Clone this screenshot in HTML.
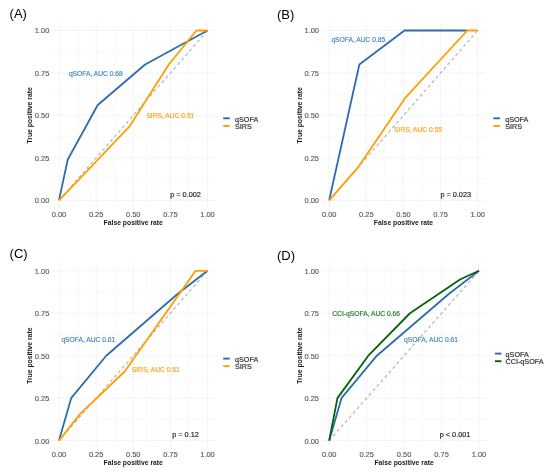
<!DOCTYPE html>
<html><head><meta charset="utf-8"><style>
html,body{margin:0;padding:0;background:#fff;}
body{width:550px;height:476px;overflow:hidden;}
svg{display:block;font-family:"Liberation Sans", sans-serif;will-change:transform;filter:blur(0.3px);}
</style></head><body>
<svg width="550" height="476" viewBox="0 0 550 476">
<rect width="550" height="476" fill="#fff"/>
<g transform="translate(0,0)">
<text x="9.6" y="18.1" font-size="13" fill="#000">(A)</text>
<line x1="59.00" y1="22.00" x2="59.00" y2="208.80" stroke="#f3f3f3" stroke-width="0.9"/>
<line x1="51.40" y1="200.30" x2="215.80" y2="200.30" stroke="#f3f3f3" stroke-width="0.9"/>
<line x1="77.56" y1="22.00" x2="77.56" y2="208.80" stroke="#f6f6f6" stroke-width="0.7"/>
<line x1="51.40" y1="179.08" x2="215.80" y2="179.08" stroke="#f6f6f6" stroke-width="0.7"/>
<line x1="96.12" y1="22.00" x2="96.12" y2="208.80" stroke="#f3f3f3" stroke-width="0.9"/>
<line x1="51.40" y1="157.85" x2="215.80" y2="157.85" stroke="#f3f3f3" stroke-width="0.9"/>
<line x1="114.69" y1="22.00" x2="114.69" y2="208.80" stroke="#f6f6f6" stroke-width="0.7"/>
<line x1="51.40" y1="136.62" x2="215.80" y2="136.62" stroke="#f6f6f6" stroke-width="0.7"/>
<line x1="133.25" y1="22.00" x2="133.25" y2="208.80" stroke="#f3f3f3" stroke-width="0.9"/>
<line x1="51.40" y1="115.40" x2="215.80" y2="115.40" stroke="#f3f3f3" stroke-width="0.9"/>
<line x1="151.81" y1="22.00" x2="151.81" y2="208.80" stroke="#f6f6f6" stroke-width="0.7"/>
<line x1="51.40" y1="94.18" x2="215.80" y2="94.18" stroke="#f6f6f6" stroke-width="0.7"/>
<line x1="170.38" y1="22.00" x2="170.38" y2="208.80" stroke="#f3f3f3" stroke-width="0.9"/>
<line x1="51.40" y1="72.95" x2="215.80" y2="72.95" stroke="#f3f3f3" stroke-width="0.9"/>
<line x1="188.94" y1="22.00" x2="188.94" y2="208.80" stroke="#f6f6f6" stroke-width="0.7"/>
<line x1="51.40" y1="51.72" x2="215.80" y2="51.72" stroke="#f6f6f6" stroke-width="0.7"/>
<line x1="207.50" y1="22.00" x2="207.50" y2="208.80" stroke="#f3f3f3" stroke-width="0.9"/>
<line x1="51.40" y1="30.50" x2="215.80" y2="30.50" stroke="#f3f3f3" stroke-width="0.9"/>
<line x1="59.00" y1="200.30" x2="207.50" y2="30.50" stroke="#b0b0b0" stroke-width="1.1" stroke-dasharray="3.2 2.8"/>
<polyline points="59.00,200.30 67.76,159.55 97.76,105.04 145.13,64.46 207.50,30.50" fill="none" stroke="#2f6cae" stroke-width="1.8" stroke-linejoin="round"/>
<polyline points="59.00,200.30 129.83,126.10 168.74,64.46 196.51,30.50 207.50,30.50" fill="none" stroke="#ff9e00" stroke-width="1.8" stroke-linejoin="round"/>
<text x="49.30" y="203.25" font-size="7.45" fill="#555" stroke="#555" stroke-width="0.12" text-anchor="end">0.00</text>
<text x="59.00" y="217.2" font-size="7.45" fill="#555" stroke="#555" stroke-width="0.12" text-anchor="middle">0.00</text>
<text x="49.30" y="160.80" font-size="7.45" fill="#555" stroke="#555" stroke-width="0.12" text-anchor="end">0.25</text>
<text x="96.12" y="217.2" font-size="7.45" fill="#555" stroke="#555" stroke-width="0.12" text-anchor="middle">0.25</text>
<text x="49.30" y="118.35" font-size="7.45" fill="#555" stroke="#555" stroke-width="0.12" text-anchor="end">0.50</text>
<text x="133.25" y="217.2" font-size="7.45" fill="#555" stroke="#555" stroke-width="0.12" text-anchor="middle">0.50</text>
<text x="49.30" y="75.90" font-size="7.45" fill="#555" stroke="#555" stroke-width="0.12" text-anchor="end">0.75</text>
<text x="170.38" y="217.2" font-size="7.45" fill="#555" stroke="#555" stroke-width="0.12" text-anchor="middle">0.75</text>
<text x="49.30" y="33.45" font-size="7.45" fill="#555" stroke="#555" stroke-width="0.12" text-anchor="end">1.00</text>
<text x="207.50" y="217.2" font-size="7.45" fill="#555" stroke="#555" stroke-width="0.12" text-anchor="middle">1.00</text>
<text x="133.25" y="224.8" font-size="6.8" font-weight="bold" fill="#1a1a1a" text-anchor="middle">False positive rate</text>
<text transform="translate(31.9,115.40) rotate(-90)" font-size="6.8" font-weight="bold" fill="#1a1a1a" text-anchor="middle">True positive rate</text>
<text x="68.9" y="75.9" font-size="6.7" fill="#4a86c6" stroke="#4a86c6" stroke-width="0.18">qSOFA, AUC 0.68</text>
<text x="146.4" y="118.1" font-size="6.7" fill="#ffa31a" stroke="#ffa31a" stroke-width="0.18">SIRS, AUC 0.51</text>
<line x1="223.2" y1="118.30" x2="229.7" y2="118.30" stroke="#2f6cae" stroke-width="1.9"/>
<text x="235.00" y="121.50" font-size="7.2" fill="#333" stroke="#333" stroke-width="0.2">qSOFA</text>
<line x1="223.2" y1="125.90" x2="229.7" y2="125.90" stroke="#ff9e00" stroke-width="1.9"/>
<text x="235.00" y="129.10" font-size="7.2" fill="#333" stroke="#333" stroke-width="0.2">SIRS</text>
<text x="185.53" y="196.6" font-size="7.3" fill="#1a1a1a" stroke="#1a1a1a" stroke-width="0.15" text-anchor="middle">p = 0.002</text>
</g>
<g transform="translate(270.2,0)">
<text x="6.8" y="19.2" font-size="13" fill="#000">(B)</text>
<line x1="59.00" y1="22.00" x2="59.00" y2="208.80" stroke="#f3f3f3" stroke-width="0.9"/>
<line x1="51.40" y1="200.30" x2="215.80" y2="200.30" stroke="#f3f3f3" stroke-width="0.9"/>
<line x1="77.56" y1="22.00" x2="77.56" y2="208.80" stroke="#f6f6f6" stroke-width="0.7"/>
<line x1="51.40" y1="179.08" x2="215.80" y2="179.08" stroke="#f6f6f6" stroke-width="0.7"/>
<line x1="96.12" y1="22.00" x2="96.12" y2="208.80" stroke="#f3f3f3" stroke-width="0.9"/>
<line x1="51.40" y1="157.85" x2="215.80" y2="157.85" stroke="#f3f3f3" stroke-width="0.9"/>
<line x1="114.69" y1="22.00" x2="114.69" y2="208.80" stroke="#f6f6f6" stroke-width="0.7"/>
<line x1="51.40" y1="136.62" x2="215.80" y2="136.62" stroke="#f6f6f6" stroke-width="0.7"/>
<line x1="133.25" y1="22.00" x2="133.25" y2="208.80" stroke="#f3f3f3" stroke-width="0.9"/>
<line x1="51.40" y1="115.40" x2="215.80" y2="115.40" stroke="#f3f3f3" stroke-width="0.9"/>
<line x1="151.81" y1="22.00" x2="151.81" y2="208.80" stroke="#f6f6f6" stroke-width="0.7"/>
<line x1="51.40" y1="94.18" x2="215.80" y2="94.18" stroke="#f6f6f6" stroke-width="0.7"/>
<line x1="170.38" y1="22.00" x2="170.38" y2="208.80" stroke="#f3f3f3" stroke-width="0.9"/>
<line x1="51.40" y1="72.95" x2="215.80" y2="72.95" stroke="#f3f3f3" stroke-width="0.9"/>
<line x1="188.94" y1="22.00" x2="188.94" y2="208.80" stroke="#f6f6f6" stroke-width="0.7"/>
<line x1="51.40" y1="51.72" x2="215.80" y2="51.72" stroke="#f6f6f6" stroke-width="0.7"/>
<line x1="207.50" y1="22.00" x2="207.50" y2="208.80" stroke="#f3f3f3" stroke-width="0.9"/>
<line x1="51.40" y1="30.50" x2="215.80" y2="30.50" stroke="#f3f3f3" stroke-width="0.9"/>
<line x1="59.00" y1="200.30" x2="207.50" y2="30.50" stroke="#b0b0b0" stroke-width="1.1" stroke-dasharray="3.2 2.8"/>
<polyline points="59.00,200.30 89.15,64.46 134.29,30.50 197.11,30.50" fill="none" stroke="#2f6cae" stroke-width="1.8" stroke-linejoin="round"/>
<polyline points="59.00,200.30 88.70,166.34 134.59,98.42 197.11,30.50 207.50,30.50" fill="none" stroke="#ff9e00" stroke-width="1.8" stroke-linejoin="round"/>
<text x="48.80" y="203.25" font-size="7.45" fill="#555" stroke="#555" stroke-width="0.12" text-anchor="end">0.00</text>
<text x="59.00" y="217.2" font-size="7.45" fill="#555" stroke="#555" stroke-width="0.12" text-anchor="middle">0.00</text>
<text x="48.80" y="160.80" font-size="7.45" fill="#555" stroke="#555" stroke-width="0.12" text-anchor="end">0.25</text>
<text x="96.12" y="217.2" font-size="7.45" fill="#555" stroke="#555" stroke-width="0.12" text-anchor="middle">0.25</text>
<text x="48.80" y="118.35" font-size="7.45" fill="#555" stroke="#555" stroke-width="0.12" text-anchor="end">0.50</text>
<text x="133.25" y="217.2" font-size="7.45" fill="#555" stroke="#555" stroke-width="0.12" text-anchor="middle">0.50</text>
<text x="48.80" y="75.90" font-size="7.45" fill="#555" stroke="#555" stroke-width="0.12" text-anchor="end">0.75</text>
<text x="170.38" y="217.2" font-size="7.45" fill="#555" stroke="#555" stroke-width="0.12" text-anchor="middle">0.75</text>
<text x="48.80" y="33.45" font-size="7.45" fill="#555" stroke="#555" stroke-width="0.12" text-anchor="end">1.00</text>
<text x="207.50" y="217.2" font-size="7.45" fill="#555" stroke="#555" stroke-width="0.12" text-anchor="middle">1.00</text>
<text x="133.25" y="224.8" font-size="6.8" font-weight="bold" fill="#1a1a1a" text-anchor="middle">False positive rate</text>
<text transform="translate(31.9,115.40) rotate(-90)" font-size="6.8" font-weight="bold" fill="#1a1a1a" text-anchor="middle">True positive rate</text>
<text x="61.2" y="42.3" font-size="6.7" fill="#4a86c6" stroke="#4a86c6" stroke-width="0.18">qSOFA, AUC 0.85</text>
<text x="123.9" y="131.8" font-size="6.7" fill="#ffa31a" stroke="#ffa31a" stroke-width="0.18">SIRS, AUC 0.55</text>
<line x1="223.2" y1="118.30" x2="229.7" y2="118.30" stroke="#2f6cae" stroke-width="1.9"/>
<text x="235.00" y="121.50" font-size="7.2" fill="#333" stroke="#333" stroke-width="0.2">qSOFA</text>
<line x1="223.2" y1="125.90" x2="229.7" y2="125.90" stroke="#ff9e00" stroke-width="1.9"/>
<text x="235.00" y="129.10" font-size="7.2" fill="#333" stroke="#333" stroke-width="0.2">SIRS</text>
<text x="185.53" y="196.6" font-size="7.3" fill="#1a1a1a" stroke="#1a1a1a" stroke-width="0.15" text-anchor="middle">p = 0.023</text>
</g>
<g transform="translate(0,240.3)">
<text x="9.6" y="17.9" font-size="13" fill="#000">(C)</text>
<line x1="59.00" y1="22.00" x2="59.00" y2="208.80" stroke="#f3f3f3" stroke-width="0.9"/>
<line x1="51.40" y1="200.30" x2="215.80" y2="200.30" stroke="#f3f3f3" stroke-width="0.9"/>
<line x1="77.56" y1="22.00" x2="77.56" y2="208.80" stroke="#f6f6f6" stroke-width="0.7"/>
<line x1="51.40" y1="179.08" x2="215.80" y2="179.08" stroke="#f6f6f6" stroke-width="0.7"/>
<line x1="96.12" y1="22.00" x2="96.12" y2="208.80" stroke="#f3f3f3" stroke-width="0.9"/>
<line x1="51.40" y1="157.85" x2="215.80" y2="157.85" stroke="#f3f3f3" stroke-width="0.9"/>
<line x1="114.69" y1="22.00" x2="114.69" y2="208.80" stroke="#f6f6f6" stroke-width="0.7"/>
<line x1="51.40" y1="136.62" x2="215.80" y2="136.62" stroke="#f6f6f6" stroke-width="0.7"/>
<line x1="133.25" y1="22.00" x2="133.25" y2="208.80" stroke="#f3f3f3" stroke-width="0.9"/>
<line x1="51.40" y1="115.40" x2="215.80" y2="115.40" stroke="#f3f3f3" stroke-width="0.9"/>
<line x1="151.81" y1="22.00" x2="151.81" y2="208.80" stroke="#f6f6f6" stroke-width="0.7"/>
<line x1="51.40" y1="94.18" x2="215.80" y2="94.18" stroke="#f6f6f6" stroke-width="0.7"/>
<line x1="170.38" y1="22.00" x2="170.38" y2="208.80" stroke="#f3f3f3" stroke-width="0.9"/>
<line x1="51.40" y1="72.95" x2="215.80" y2="72.95" stroke="#f3f3f3" stroke-width="0.9"/>
<line x1="188.94" y1="22.00" x2="188.94" y2="208.80" stroke="#f6f6f6" stroke-width="0.7"/>
<line x1="51.40" y1="51.72" x2="215.80" y2="51.72" stroke="#f6f6f6" stroke-width="0.7"/>
<line x1="207.50" y1="22.00" x2="207.50" y2="208.80" stroke="#f3f3f3" stroke-width="0.9"/>
<line x1="51.40" y1="30.50" x2="215.80" y2="30.50" stroke="#f3f3f3" stroke-width="0.9"/>
<line x1="59.00" y1="200.30" x2="207.50" y2="30.50" stroke="#b0b0b0" stroke-width="1.1" stroke-dasharray="3.2 2.8"/>
<polyline points="59.00,200.30 71.18,157.85 106.22,115.40 177.80,53.42 207.50,30.50" fill="none" stroke="#2f6cae" stroke-width="1.8" stroke-linejoin="round"/>
<polyline points="59.00,200.30 79.94,173.81 124.64,131.19 195.62,30.50 207.50,30.50" fill="none" stroke="#ff9e00" stroke-width="1.8" stroke-linejoin="round"/>
<text x="49.30" y="203.25" font-size="7.45" fill="#555" stroke="#555" stroke-width="0.12" text-anchor="end">0.00</text>
<text x="59.00" y="217.2" font-size="7.45" fill="#555" stroke="#555" stroke-width="0.12" text-anchor="middle">0.00</text>
<text x="49.30" y="160.80" font-size="7.45" fill="#555" stroke="#555" stroke-width="0.12" text-anchor="end">0.25</text>
<text x="96.12" y="217.2" font-size="7.45" fill="#555" stroke="#555" stroke-width="0.12" text-anchor="middle">0.25</text>
<text x="49.30" y="118.35" font-size="7.45" fill="#555" stroke="#555" stroke-width="0.12" text-anchor="end">0.50</text>
<text x="133.25" y="217.2" font-size="7.45" fill="#555" stroke="#555" stroke-width="0.12" text-anchor="middle">0.50</text>
<text x="49.30" y="75.90" font-size="7.45" fill="#555" stroke="#555" stroke-width="0.12" text-anchor="end">0.75</text>
<text x="170.38" y="217.2" font-size="7.45" fill="#555" stroke="#555" stroke-width="0.12" text-anchor="middle">0.75</text>
<text x="49.30" y="33.45" font-size="7.45" fill="#555" stroke="#555" stroke-width="0.12" text-anchor="end">1.00</text>
<text x="207.50" y="217.2" font-size="7.45" fill="#555" stroke="#555" stroke-width="0.12" text-anchor="middle">1.00</text>
<text x="133.25" y="224.8" font-size="6.8" font-weight="bold" fill="#1a1a1a" text-anchor="middle">False positive rate</text>
<text transform="translate(31.9,115.40) rotate(-90)" font-size="6.8" font-weight="bold" fill="#1a1a1a" text-anchor="middle">True positive rate</text>
<text x="61.4" y="101.8" font-size="6.7" fill="#4a86c6" stroke="#4a86c6" stroke-width="0.18">qSOFA, AUC 0.61</text>
<text x="131.8" y="132.2" font-size="6.7" fill="#ffa31a" stroke="#ffa31a" stroke-width="0.18">SIRS, AUC 0.51</text>
<line x1="223.2" y1="118.30" x2="229.7" y2="118.30" stroke="#2f6cae" stroke-width="1.9"/>
<text x="235.00" y="121.50" font-size="7.2" fill="#333" stroke="#333" stroke-width="0.2">qSOFA</text>
<line x1="223.2" y1="125.90" x2="229.7" y2="125.90" stroke="#ff9e00" stroke-width="1.9"/>
<text x="235.00" y="129.10" font-size="7.2" fill="#333" stroke="#333" stroke-width="0.2">SIRS</text>
<text x="185.53" y="196.6" font-size="7.3" fill="#1a1a1a" stroke="#1a1a1a" stroke-width="0.15" text-anchor="middle">p = 0.12</text>
</g>
<g transform="translate(270.2,240.3)">
<text x="6.8" y="19.4" font-size="13" fill="#000">(D)</text>
<line x1="59.00" y1="22.00" x2="59.00" y2="208.80" stroke="#f3f3f3" stroke-width="0.9"/>
<line x1="51.40" y1="200.30" x2="217.60" y2="200.30" stroke="#f3f3f3" stroke-width="0.9"/>
<line x1="77.72" y1="22.00" x2="77.72" y2="208.80" stroke="#f6f6f6" stroke-width="0.7"/>
<line x1="51.40" y1="179.08" x2="217.60" y2="179.08" stroke="#f6f6f6" stroke-width="0.7"/>
<line x1="96.45" y1="22.00" x2="96.45" y2="208.80" stroke="#f3f3f3" stroke-width="0.9"/>
<line x1="51.40" y1="157.85" x2="217.60" y2="157.85" stroke="#f3f3f3" stroke-width="0.9"/>
<line x1="115.18" y1="22.00" x2="115.18" y2="208.80" stroke="#f6f6f6" stroke-width="0.7"/>
<line x1="51.40" y1="136.62" x2="217.60" y2="136.62" stroke="#f6f6f6" stroke-width="0.7"/>
<line x1="133.90" y1="22.00" x2="133.90" y2="208.80" stroke="#f3f3f3" stroke-width="0.9"/>
<line x1="51.40" y1="115.40" x2="217.60" y2="115.40" stroke="#f3f3f3" stroke-width="0.9"/>
<line x1="152.62" y1="22.00" x2="152.62" y2="208.80" stroke="#f6f6f6" stroke-width="0.7"/>
<line x1="51.40" y1="94.18" x2="217.60" y2="94.18" stroke="#f6f6f6" stroke-width="0.7"/>
<line x1="171.35" y1="22.00" x2="171.35" y2="208.80" stroke="#f3f3f3" stroke-width="0.9"/>
<line x1="51.40" y1="72.95" x2="217.60" y2="72.95" stroke="#f3f3f3" stroke-width="0.9"/>
<line x1="190.08" y1="22.00" x2="190.08" y2="208.80" stroke="#f6f6f6" stroke-width="0.7"/>
<line x1="51.40" y1="51.72" x2="217.60" y2="51.72" stroke="#f6f6f6" stroke-width="0.7"/>
<line x1="208.80" y1="22.00" x2="208.80" y2="208.80" stroke="#f3f3f3" stroke-width="0.9"/>
<line x1="51.40" y1="30.50" x2="217.60" y2="30.50" stroke="#f3f3f3" stroke-width="0.9"/>
<line x1="59.00" y1="200.30" x2="208.80" y2="30.50" stroke="#b0b0b0" stroke-width="1.1" stroke-dasharray="3.2 2.8"/>
<polyline points="59.00,200.30 71.28,157.85 106.64,115.40 178.84,53.42 208.80,30.50" fill="none" stroke="#2f6cae" stroke-width="1.8" stroke-linejoin="round"/>
<polyline points="59.00,200.30 67.24,157.85 98.10,115.40 139.74,72.95 190.22,38.99 208.80,30.50" fill="none" stroke="#036405" stroke-width="1.8" stroke-linejoin="round"/>
<text x="48.80" y="203.25" font-size="7.45" fill="#555" stroke="#555" stroke-width="0.12" text-anchor="end">0.00</text>
<text x="59.00" y="217.2" font-size="7.45" fill="#555" stroke="#555" stroke-width="0.12" text-anchor="middle">0.00</text>
<text x="48.80" y="160.80" font-size="7.45" fill="#555" stroke="#555" stroke-width="0.12" text-anchor="end">0.25</text>
<text x="96.45" y="217.2" font-size="7.45" fill="#555" stroke="#555" stroke-width="0.12" text-anchor="middle">0.25</text>
<text x="48.80" y="118.35" font-size="7.45" fill="#555" stroke="#555" stroke-width="0.12" text-anchor="end">0.50</text>
<text x="133.90" y="217.2" font-size="7.45" fill="#555" stroke="#555" stroke-width="0.12" text-anchor="middle">0.50</text>
<text x="48.80" y="75.90" font-size="7.45" fill="#555" stroke="#555" stroke-width="0.12" text-anchor="end">0.75</text>
<text x="171.35" y="217.2" font-size="7.45" fill="#555" stroke="#555" stroke-width="0.12" text-anchor="middle">0.75</text>
<text x="48.80" y="33.45" font-size="7.45" fill="#555" stroke="#555" stroke-width="0.12" text-anchor="end">1.00</text>
<text x="208.80" y="217.2" font-size="7.45" fill="#555" stroke="#555" stroke-width="0.12" text-anchor="middle">1.00</text>
<text x="133.90" y="224.8" font-size="6.8" font-weight="bold" fill="#1a1a1a" text-anchor="middle">False positive rate</text>
<text transform="translate(31.9,115.40) rotate(-90)" font-size="6.8" font-weight="bold" fill="#1a1a1a" text-anchor="middle">True positive rate</text>
<text x="62.1" y="75.9" font-size="6.7" fill="#2a7a2a" stroke="#2a7a2a" stroke-width="0.18">CCI-qSOFA, AUC 0.66</text>
<text x="133.9" y="101.5" font-size="6.7" fill="#4a86c6" stroke="#4a86c6" stroke-width="0.18">qSOFA, AUC 0.61</text>
<line x1="224.79999999999998" y1="113.30" x2="231.29999999999998" y2="113.30" stroke="#2f6cae" stroke-width="1.9"/>
<text x="235.40" y="116.50" font-size="7.2" fill="#333" stroke="#333" stroke-width="0.2">qSOFA</text>
<line x1="224.79999999999998" y1="120.90" x2="231.29999999999998" y2="120.90" stroke="#036405" stroke-width="1.9"/>
<text x="235.40" y="124.10" font-size="7.2" fill="#333" stroke="#333" stroke-width="0.2">CCI-qSOFA</text>
<text x="184.83" y="196.6" font-size="7.3" fill="#1a1a1a" stroke="#1a1a1a" stroke-width="0.15" text-anchor="middle">p &lt; 0.001</text>
</g>
</svg>
</body></html>
